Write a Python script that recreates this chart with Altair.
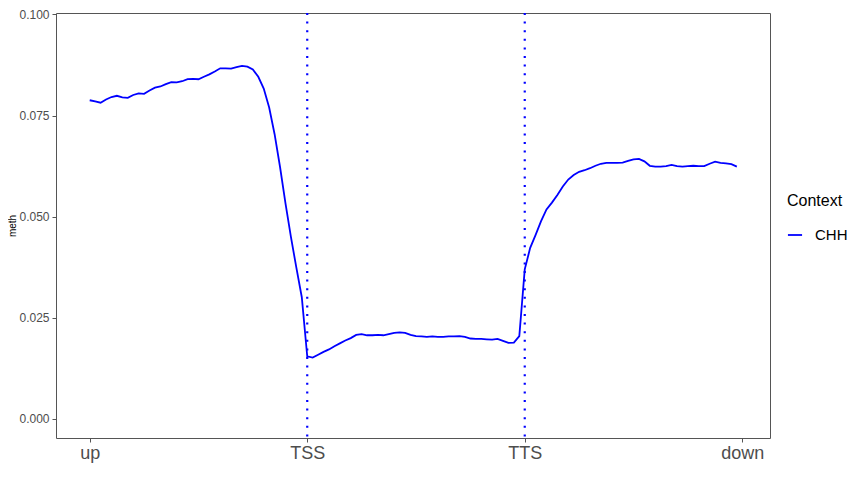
import altair as alt
import pandas as pd

bins = list(range(120))
meth = [
    0.0788, 0.0785, 0.0782, 0.0790, 0.0796, 0.0799, 0.0795, 0.0794, 0.0801, 0.0805,
    0.0804, 0.0812, 0.0819, 0.0822, 0.0828, 0.0833, 0.0832, 0.0835, 0.0840, 0.0841,
    0.0840, 0.0846, 0.0852, 0.0859, 0.0867, 0.0867, 0.0866, 0.0870, 0.0873, 0.0871,
    0.0864, 0.0846, 0.0817, 0.0770, 0.0704, 0.0623, 0.0533, 0.0450, 0.0374, 0.0301,
    0.0155, 0.0152, 0.0159, 0.0166, 0.0172, 0.0180, 0.0187, 0.0194, 0.0200, 0.0208,
    0.0210, 0.0207, 0.0207, 0.0208, 0.0207, 0.0210, 0.0213, 0.0214, 0.0213, 0.0208,
    0.0205, 0.0204, 0.0203, 0.0204, 0.0203, 0.0203, 0.0204, 0.0204, 0.0205, 0.0203,
    0.0199, 0.0198, 0.0198, 0.0197, 0.0196, 0.0198, 0.0193, 0.0188, 0.0189, 0.0205,
    0.0370, 0.0423, 0.0455, 0.0489, 0.0518, 0.0535, 0.0554, 0.0575, 0.0592, 0.0603,
    0.0611, 0.0615, 0.0620, 0.0626, 0.0631, 0.0633, 0.0633, 0.0633, 0.0634, 0.0638,
    0.0642, 0.0643, 0.0637, 0.0626, 0.0624, 0.0624, 0.0625, 0.0628, 0.0625, 0.0624,
    0.0625, 0.0626, 0.0625, 0.0625, 0.0631, 0.0636, 0.0633, 0.0632, 0.0630, 0.0624,
]
context = ["CHH"] * len(bins)

x_tick_values = [0, 40, 80, 120]
x_tick_labels = ["up", "TSS", "TTS", "down"]
y_tick_values = [0.0, 0.025, 0.05, 0.075, 0.1]
boundary_x = [40, 80]

df = pd.DataFrame({"bin": bins, "meth": meth, "Context": context})
vdf = pd.DataFrame({"bin": boundary_x})

label_expr = " : ".join(
    f"datum.value == {v} ? '{l}'" for v, l in zip(x_tick_values, x_tick_labels)
) + " : ''"

FONT = "Liberation Sans"

x_scale = alt.Scale(domain=[-6.2, 125.1], nice=False, zero=False)
y_scale = alt.Scale(domain=[-0.0047, 0.10037], nice=False, zero=False)

line = alt.Chart(df).mark_line(strokeWidth=1.8).encode(
    x=alt.X("bin:Q", scale=x_scale,
            axis=alt.Axis(values=x_tick_values, labelExpr=label_expr, title=None,
                          grid=False, labelFontSize=18, labelColor="#4d4d4d",
                          tickColor="#555", tickSize=4, labelPadding=2,
                          domain=False, labelFont=FONT)),
    y=alt.Y("meth:Q", scale=y_scale,
            axis=alt.Axis(values=y_tick_values, format=".3f", title="meth",
                          grid=False, labelFontSize=12, labelColor="#4d4d4d",
                          tickColor="#555", tickSize=4, labelPadding=3,
                          domain=False, titleFontSize=10, titleFontWeight="normal",
                          titleColor="#000", titlePadding=1, labelFont=FONT,
                          titleFont=FONT)),
    color=alt.Color("Context:N", scale=alt.Scale(range=["#0000FF"]),
                    legend=alt.Legend(title="Context", symbolType="stroke",
                                      orient="none", legendX=731, legendY=180,
                                      titleFontSize=16, titleFontWeight="normal",
                                      labelFontSize=15, titleColor="#000",
                                      labelColor="#000", symbolStrokeWidth=1.8,
                                      symbolSize=200, titleFont=FONT,
                                      labelFont=FONT, titlePadding=18,
                                      labelOffset=12)),
)

rules = alt.Chart(vdf).mark_rule(color="#0000FF", strokeWidth=2.2,
                                 strokeDash=[2, 6.6]).encode(
    x=alt.X("bin:Q", scale=x_scale),
)

chart = alt.layer(rules, line).properties(
    width=714, height=425,
    autosize=alt.AutoSizeParams(type="none"),
    padding={"left": 48, "top": 5, "right": 80, "bottom": 40},
).configure(background="white").configure_view(stroke="#555555", strokeWidth=1)

chart.save("out.html", embed_options={"renderer": "svg", "actions": False})
